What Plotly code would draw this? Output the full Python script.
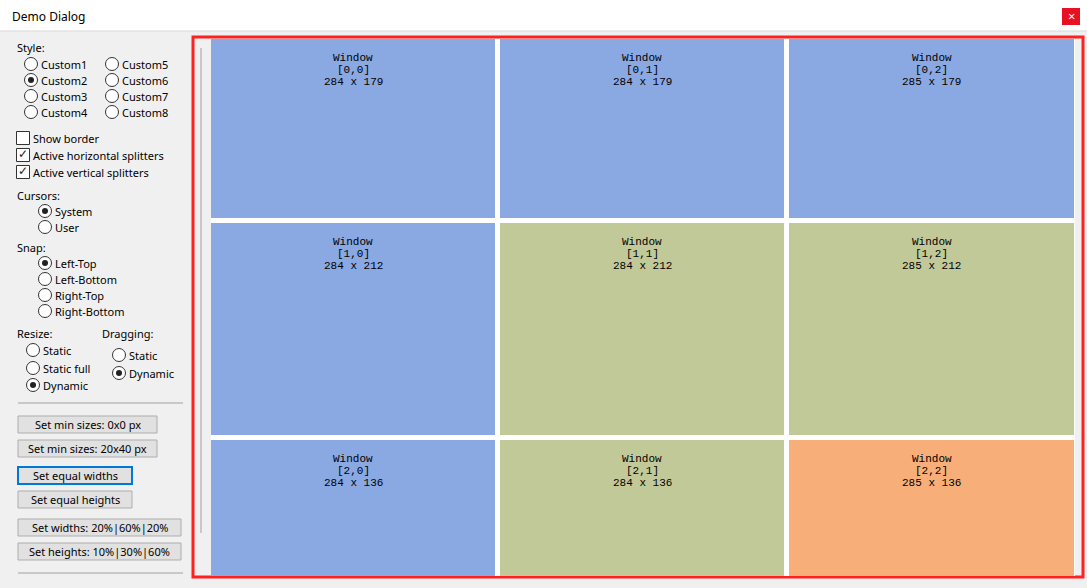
import plotly.graph_objects as go

# Splitter grid data
col_widths = [284, 284, 285]
row_heights = [179, 212, 136]
cell_colors = [["#8aa8e2", "#8aa8e2", "#8aa8e2"],
               ["#8aa8e2", "#c2c998", "#c2c998"],
               ["#8aa8e2", "#c2c998", "#f7ae78"]]

# Dialog controls
style_col1 = ["Custom1", "Custom2", "Custom3", "Custom4"]
style_col2 = ["Custom5", "Custom6", "Custom7", "Custom8"]
style_selected = "Custom2"
checkboxes = ["Show border", "Active horizontal splitters", "Active vertical splitters"]
checked = [False, True, True]
cursors = ["System", "User"]
snap = ["Left-Top", "Left-Bottom", "Right-Top", "Right-Bottom"]
resize = ["Static", "Static full", "Dynamic"]
dragging = ["Static", "Dynamic"]
buttons = ["Set min sizes: 0x0 px", "Set min sizes: 20x40 px", "Set equal widths",
           "Set equal heights", "Set widths: 20%|60%|20%", "Set heights: 10%|30%|60%"]

UI = "Noto Sans"
MONO = "Liberation Mono"
fig = go.Figure()
shapes = []
ann = []

def rect(x0, y0, x1, y1, fill, line=None, w=1):
    shapes.append(dict(type="rect", x0=x0, y0=y0, x1=x1, y1=y1, fillcolor=fill,
                       line=dict(color=line or fill, width=w if line else 0), layer="below"))

def text(x, y, s, size=11, font=UI, anchor="left", color="#000"):
    ann.append(dict(x=x, y=y, text=s, showarrow=False, xanchor=anchor, yanchor="middle",
                    font=dict(family=font, size=size, color=color)))

# dialog frame
rect(0, 0, 1087, 588, "#f0f0f0")
rect(0, 0, 1087, 31, "#ffffff")
shapes.append(dict(type="line", x0=0, x1=1087, y0=31, y1=31, line=dict(color="#d8d8d8", width=1)))
text(10, 16, "Demo Dialog", 12)
rect(1062, 8, 1080, 25, "#e81123")
text(1071, 16, "×", 13, anchor="center", color="#fff")

# red frame and splitter area
rect(193, 37, 1083, 577, "#f0f0f0", "#ff2020", 3)
shapes.append(dict(type="line", x0=201, x1=201, y0=48, y1=533, line=dict(color="#a0a0a0", width=1)))
rect(211, 39, 1075, 576, "#ffffff")

x0, gap = 211, 5
y = 39
for r, h in enumerate(row_heights):
    x = x0
    for c, w in enumerate(col_widths):
        rect(x, y, x + w, y + h, cell_colors[r][c])
        cx = x + w / 2
        text(cx, y + 19, "Window", 11, MONO, "center")
        text(cx, y + 31, f"[{r},{c}]", 11, MONO, "center")
        text(cx, y + 43, f"{w} x {h}", 11, MONO, "center")
        x += w + gap
    y += h + gap

# radios
rx, ry, sel_x, sel_y = [], [], [], []
def radios(cx, ys, labels, selected, tx):
    for yy, lab in zip(ys, labels):
        rx.append(cx); ry.append(yy)
        text(tx, yy, lab)
        if lab == selected:
            sel_x.append(cx); sel_y.append(yy)

text(15, 47, "Style:")
radios(31, [64, 80, 96, 112], style_col1, style_selected, 39)
radios(112, [64, 80, 96, 112], style_col2, style_selected, 120)
text(15, 195, "Cursors:")
radios(45, [211, 227], cursors, "System", 53)
text(15, 247, "Snap:")
radios(45, [263, 279, 295, 311], snap, "Left-Top", 53)
text(15, 333, "Resize:")
text(100, 333, "Dragging:")
radios(33, [350, 368, 385], resize, "Dynamic", 41)
radios(119, [355, 373], dragging, "Dynamic", 127)

fig.add_trace(go.Scatter(x=rx, y=ry, mode="markers", hoverinfo="skip",
                         marker=dict(symbol="circle", size=13, color="#ffffff",
                                     line=dict(color="#333333", width=1))))
fig.add_trace(go.Scatter(x=sel_x, y=sel_y, mode="markers", hoverinfo="skip",
                         marker=dict(symbol="circle", size=6, color="#222222")))

# checkboxes
cb_y = [138, 155, 172]
for yy, lab in zip(cb_y, checkboxes):
    text(31, yy, lab)
fig.add_trace(go.Scatter(x=[23] * 3, y=cb_y, mode="markers", hoverinfo="skip",
                         marker=dict(symbol="square", size=13, color="#ffffff",
                                     line=dict(color="#333333", width=1))))
fig.add_trace(go.Scatter(x=[23] * sum(checked), y=[v for v, c in zip(cb_y, checked) if c],
                         mode="text", text=["✓"] * sum(checked), hoverinfo="skip",
                         textfont=dict(size=12, color="#222")))

# separators and buttons
for sy in [403, 573]:
    shapes.append(dict(type="line", x0=18, x1=183, y0=sy, y1=sy, line=dict(color="#a0a0a0", width=1)))
btn_boxes = [(18, 416, 157, 433), (18, 440, 157, 457), (18, 467, 132, 484),
             (18, 491, 132, 508), (18, 519, 181, 536), (18, 543, 181, 560)]
for (bx0, by0, bx1, by1), lab in zip(btn_boxes, buttons):
    focus = lab == "Set equal widths"
    rect(bx0, by0, bx1, by1, "#e1e1e1", "#0078d7" if focus else "#adadad", 2 if focus else 1)
    text((bx0 + bx1) / 2, (by0 + by1) / 2, lab, 11, anchor="center")

fig.update_layout(width=1087, height=588, margin=dict(l=0, r=0, t=0, b=0),
                  paper_bgcolor="#f0f0f0", plot_bgcolor="#f0f0f0", showlegend=False,
                  shapes=shapes, annotations=ann,
                  xaxis=dict(range=[0, 1087], visible=False, fixedrange=True),
                  yaxis=dict(range=[588, 0], visible=False, fixedrange=True))
fig.write_html("out.html", config={"displayModeBar": False},
               post_script="document.body.style.margin='0';document.body.style.overflow='hidden';")
